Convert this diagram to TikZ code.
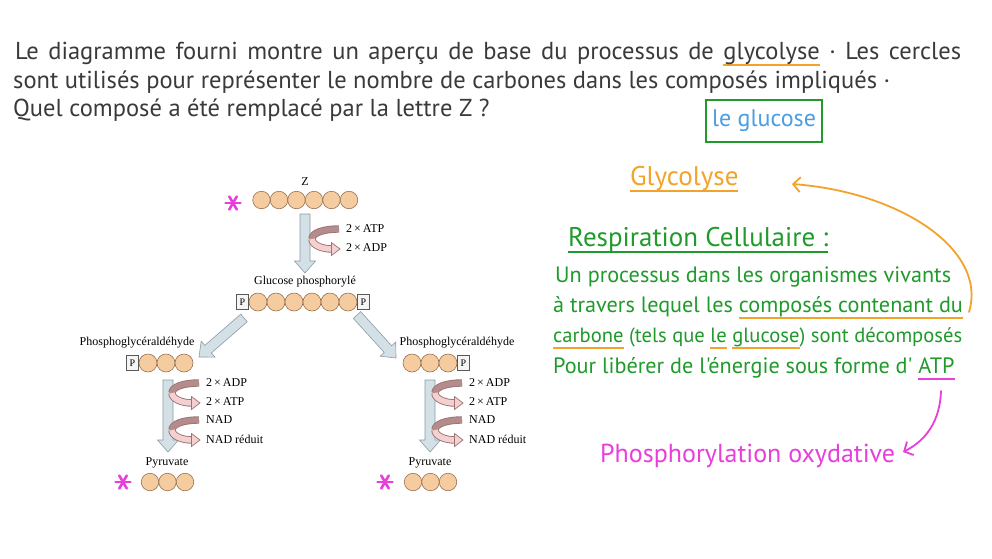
\documentclass[tikz,border=0pt]{standalone}
\usepackage{fontspec}
\setmainfont{Liberation Serif}
\newfontfamily\mainfont{PT Sans}
\usetikzlibrary{calc, arrows.meta, positioning}

\definecolor{encre}{HTML}{3A3A3A}
\definecolor{orangeh}{HTML}{F2A32A}
\definecolor{vert}{HTML}{1F9A2B}
\definecolor{bleuh}{HTML}{4A9EE3}
\definecolor{magh}{HTML}{E83EDC}
\definecolor{carb}{HTML}{F5CBA0}
\definecolor{carbb}{HTML}{9A7050}
\definecolor{fleche}{HTML}{D3E0E6}
\definecolor{flecheb}{HTML}{8C9CA4}
\definecolor{fonce}{HTML}{B48C8C}
\definecolor{clair}{HTML}{F4D0D0}
\definecolor{bord}{HTML}{9C7474}

\tikzset{
    carbone/.style={circle, draw=carbb, fill=carb, minimum size=17.5pt, inner sep=0, line width=0.6pt},
    phos/.style={draw=gray!70!black, fill=gray!8, minimum width=12pt, minimum height=15pt, inner sep=0, font=\fontsize{10}{10}\selectfont},
    etiq/.style={font=\fontsize{12}{12}\selectfont, inner sep=0},
    grosse/.style={draw=flecheb, fill=fleche, line width=0.6pt},
    asterisque/.style={draw=magh, line width=2.6pt, line cap=round},
    ecrit/.style={anchor=base west, inner sep=0, text=encre, font=\mainfont\fontsize{24.5}{24.5}\selectfont},
    note/.style={anchor=base west, inner sep=0, text=vert, font=\mainfont\fontsize{22.2}{22.2}\selectfont},
    grand/.style={font=\mainfont\fontsize{27}{27}\selectfont},
    trait/.style={line width=1.8pt, line cap=round, -{Straight Barb[length=7pt, width=15pt]}}
}

% souligne un mot a la main
\newcommand{\souligne}[2]{\setbox0\hbox{#2}\rlap{\color{#1}\rule[-7pt]{\wd0}{1.8pt}}\box0\relax}

% grosse fleche de #1 vers #2
\newcommand{\grossefleche}[2]{%
    \coordinate (col) at ($(#2)!12pt!(#1)$);
    \draw[grosse] ($(#1)!5pt!90:(#2)$) -- ($(col)!5pt!-90:(#1)$) -- ($(col)!10.5pt!-90:(#1)$)
        -- (#2) -- ($(col)!10.5pt!90:(#1)$) -- ($(col)!5pt!90:(#1)$) -- ($(#1)!5pt!-90:(#2)$) -- cycle;
}

% fleche courbe d'echange : origine, nom, texte haut, texte bas
\newcommand{\echange}[4]{%
    \begin{scope}[shift={(#1)}]
        \draw[bord, line width=7.4pt] (0,0) .. controls (-16,0) and (-27,4) .. (-27,10);
        \draw[bord, line width=7.4pt] (-27,10) .. controls (-27,16) and (-17,20) .. (-7,20);
        \draw[fonce, line width=5.6pt] (0,0) .. controls (-16,0) and (-27,4) .. (-27,10);
        \draw[clair, line width=5.6pt] (-27,10) .. controls (-27,16) and (-17,20) .. (-7,20);
        \filldraw[draw=bord, fill=clair, line width=0.7pt] (-7.5,13.5) -- (1,20) -- (-7.5,26.5) -- cycle;
        \node[etiq, anchor=west] (#2h) at (7,0) {#3};
        \node[etiq, anchor=west] (#2b) at (7,19) {#4};
    \end{scope}
}

\newcommand{\etoile}[1]{%
    \foreach \a in {0,60,120} \draw[asterisque] ($(#1)+(\a:7.5)$) -- ($(#1)+(\a+180:7.5)$);
}

\begin{document}
\begin{tikzpicture}[x=1pt, y=-1pt]
    \useasboundingbox[fill=white] (0,0) rectangle (992,558);

    % la question
    \node[ecrit] (q1) at (15,59) {\spaceskip=9.5pt plus 1pt Le diagramme fourni montre un aperçu de base du processus de \souligne{orangeh}{glycolyse} · Les cercles};
    \node[ecrit] (q2) at (13,88) {sont utilisés pour représenter le nombre de carbones dans les composés impliqués ·};
    \node[ecrit] (q3) at (13,116) {Quel composé a été remplacé par la lettre Z ?};

    \node[draw=vert, line width=2pt, minimum width=116pt, minimum height=42pt, inner sep=0,
        text=bleuh, font=\mainfont\fontsize{24}{24}\selectfont] (reponse) at (764,121) {le glucose};

    % le schema
    \node[etiq] (lz) at (305,182) {Z};
    \foreach \i in {1,...,6}
        \node[carbone] (z\i) at ({244+17.5*\i},200) {};
    \coordinate (e1) at (233,203);
    \etoile{e1}

    \coordinate (a1) at (305,214);
    \coordinate (a2) at (305,273);
    \grossefleche{a1}{a2}
    \echange{339,229}{atp}{2\,×\,ATP}{2\,×\,ADP}

    \node[etiq] (lg) at (305,282) {Glucose phosphorylé};
    \foreach \i in {1,...,6}
        \node[carbone, minimum size=18pt] (g\i) at ({240+18*\i},302) {};
    \node[phos, anchor=east] (pg) at (g1.west) {P};
    \node[phos, anchor=west] (pd) at (g6.east) {P};

    \coordinate (b1) at (244,318);
    \coordinate (b2) at (199,357);
    \grossefleche{b1}{b2}
    \coordinate (c1) at (357,315);
    \coordinate (c2) at (396,358);
    \grossefleche{c1}{c2}

    % cote gauche
    \node[etiq] (lpg) at (137,343) {Phosphoglycéraldéhyde};
    \foreach \i in {1,2,3}
        \node[carbone, minimum size=18pt] (lp\i) at ({130+18*\i},363) {};
    \node[phos, anchor=east] (lpp) at (lp1.west) {P};
    \coordinate (d1) at (168,380);
    \coordinate (d2) at (168,452);
    \grossefleche{d1}{d2}
    \echange{199,383}{ladp}{2\,×\,ADP}{2\,×\,ATP}
    \echange{199,420}{lnad}{NAD}{NAD réduit}
    \node[etiq] (lpy) at (167,463) {Pyruvate};
    \foreach \i in {1,2,3}
        \node[carbone] (ly\i) at ({132.5+17.5*\i},482) {};
    \coordinate (e2) at (123,482);
    \etoile{e2}

    % cote droit
    \node[etiq] (rpg) at (457,343) {Phosphoglycéraldéhyde};
    \foreach \i in {1,2,3}
        \node[carbone, minimum size=18pt] (rp\i) at ({394+18*\i},363) {};
    \node[phos, anchor=west] (rpp) at (rp3.east) {P};
    \coordinate (f1) at (430,380);
    \coordinate (f2) at (430,452);
    \grossefleche{f1}{f2}
    \echange{462,383}{radp}{2\,×\,ADP}{2\,×\,ATP}
    \echange{462,420}{rnad}{NAD}{NAD réduit}
    \node[etiq] (rpy) at (430,463) {Pyruvate};
    \foreach \i in {1,2,3}
        \node[carbone] (ry\i) at ({395.5+17.5*\i},482) {};
    \coordinate (e3) at (385,482);
    \etoile{e3}

    % notes
    \node[note, grand, text=orangeh] (glyco) at (630,185) {\souligne{orangeh}{Glycolyse}};
    \node[note, grand] (resp) at (568,246) {\souligne{vert}{Respiration Cellulaire :}};
    \node[note] (n1) at (555,282) {Un processus dans les organismes vivants};
    \node[note] (n2) at (553,312) {à travers lequel les \souligne{orangeh}{composés contenant du}};
    \node[note, font=\mainfont\fontsize{20.6}{20.6}\selectfont] (n3) at (553,342) {\souligne{orangeh}{carbone} (tels que \souligne{orangeh}{le} \souligne{orangeh}{glucose}) sont décomposés};
    \node[note] (n4) at (553,373) {Pour libérer de l'énergie sous forme d' \souligne{magh}{ATP}};
    \node[note, text=magh, font=\mainfont\fontsize{26}{26}\selectfont] (phox) at (600,462) {Phosphorylation oxydative};

    \coordinate (o1) at (969,312);
    \coordinate (o2) at (792,184);
    \draw[trait, orangeh] (o1) .. controls (988,250) and (900,192) .. (o2);
    \coordinate (m1) at (941,391);
    \coordinate (m2) at (903,452);
    \draw[trait, magh] (m1) .. controls (940,420) and (927,440) .. (m2);
\end{tikzpicture}
\end{document}
